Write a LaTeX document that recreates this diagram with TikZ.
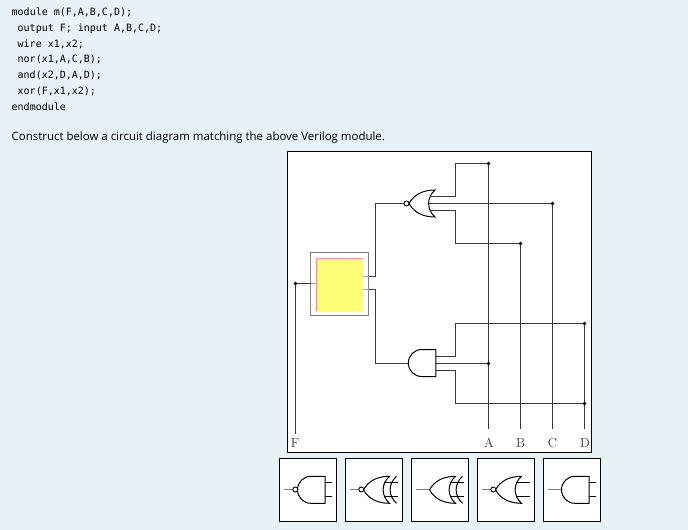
\documentclass[tikz,border=0pt]{standalone}
\usepackage{fontspec}
\setmainfont{Open Sans}
\newfontfamily\codefont{DejaVu Sans Mono}
\newfontfamily\labelfont{Latin Modern Roman}
\definecolor{pagebg}{HTML}{E7F3F6}
\definecolor{wirec}{HTML}{3A3A3A}
\definecolor{slotc}{HTML}{808080}
\definecolor{sloty}{HTML}{FFFF7A}
\definecolor{slotp}{HTML}{FF8A9A}
\tikzset{
  wire/.style={draw=wirec,line width=1.3pt},
  faint/.style={draw=black!35,line width=1.3pt},
  gateline/.style={draw=black,line width=1pt,fill=white},
  pinline/.style={draw=black,line width=1pt},
  outline/.style={line width=1.2pt},
  codeline/.style={anchor=base west,inner sep=0pt,font=\codefont\fontsize{10}{12}\selectfont,text=black},
  sheet/.style={draw=black,line width=1.2pt,fill=white},
  choice/.style={draw=black,line width=1.2pt,fill=white,minimum width=57pt,minimum height=63pt,inner sep=0pt},
  pinlabel/.style={inner sep=0pt,font=\labelfont\fontsize{13}{14}\selectfont,text=black!80},
  jdot/.style={circle,fill=black,inner sep=0pt,minimum size=3.6pt},
  bubble/.style={circle,draw=black,line width=.9pt,fill=white,inner sep=0pt,minimum size=5pt},
  andshape/.pic={
    \path[gateline] (27.5,-13.5) -- (13.4,-13.5) .. controls (6,-13.5) and (0,-7.5) .. (0,0)
      .. controls (0,7.5) and (6,13.5) .. (13.4,13.5) -- (27.5,13.5) -- cycle;
  },
  orshape/.pic={
    \path[gateline] (26,-13.5) .. controls (14,-13.5) and (5,-9) .. (0,0)
      .. controls (5,9) and (14,13.5) .. (26,13.5)
      .. controls (17.5,6) and (17.5,-6) .. (26,-13.5) -- cycle;
  },
  xorback/.pic={
    \draw[pinline] (0,-13.5) .. controls (-8.5,-6) and (-8.5,6) .. (0,13.5);
  }
}
\begin{document}
\begin{tikzpicture}[x=1pt,y=-1pt]
\useasboundingbox[fill=pagebg] (0,0) rectangle (688,530);
% text
\node[codeline] (l1) at (11.5,15) {module m(F,A,B,C,D);};
\node[codeline] (l2) at (17.5,31) {output F; input A,B,C,D;};
\node[codeline] (l3) at (17.5,47) {wire x1,x2;};
\node[codeline] (l4) at (17.5,62.5) {nor(x1,A,C,B);};
\node[codeline] (l5) at (17.5,78.5) {and(x2,D,A,D);};
\node[codeline] (l6) at (17.5,94.5) {xor(F,x1,x2);};
\node[codeline] (l7) at (11.5,110) {endmodule};
\node[anchor=base west,inner sep=0pt,font=\fontsize{11.45}{13}\selectfont,text=black] (q) at (11.5,140)
  {Construct below a circuit diagram matching the above Verilog module.};
% main sheet
\path[sheet] (287.5,151.5) rectangle (591.5,452.5);
% pin coordinates
\coordinate (At) at (488.5,163.5); \coordinate (Ab) at (488.5,429);
\coordinate (Bt) at (520.5,243.5); \coordinate (Bb) at (520.5,429);
\coordinate (Ct) at (552.5,203.5); \coordinate (Cb) at (552.5,429);
\coordinate (Dt) at (584.5,323.5); \coordinate (Db) at (584.5,429);
\coordinate (Am) at (488.5,363.5); \coordinate (Dm) at (584.5,403.5);
\coordinate (Ft) at (295.5,283.5); \coordinate (Fb) at (295.5,434);
\draw[wire] (At) -- (Ab); \draw[wire] (Bt) -- (Bb); \draw[wire] (Ct) -- (Cb);
\draw[wire] (Dt) -- (Db); \draw[wire] (Ft) -- (Fb);
% slot
\node[fill=white,minimum width=58pt,minimum height=63pt,inner sep=0pt] (slot) at (339.5,284) {};
\path[fill=slotp] (316,258) rectangle (363,311);
\path[fill=sloty] (317,259) rectangle (363,311);
\draw[outline,draw=slotc] (slot.north west) rectangle (slot.south east);
\coordinate (sa) at (363,276.5); \coordinate (sb) at (369,276.5);
\coordinate (sc) at (363,289.5); \coordinate (sd) at (369,289.5);
\coordinate (se) at (310.5,283.5); \coordinate (sf) at (316,283.5);
\draw[faint] (sa) -- (sb); \draw[faint] (sc) -- (sd); \draw[faint] (se) -- (sf);
\draw[wire] (Ft) -- (se);
% gates in circuit
\coordinate (norin1) at (431,196.5); \coordinate (norin2) at (429,203.5); \coordinate (norin3) at (431,210.5);
\coordinate (andin1) at (435.7,356.5); \coordinate (andin2) at (435.7,363.5); \coordinate (andin3) at (435.7,370.5);
\coordinate (andout) at (408.3,363.5);
\draw[wire] (norin1) -| (455.5,163.5) -- (At);
\draw[wire] (norin2) -- (Ct);
\draw[wire] (norin3) -| (455.5,243.5) -- (Bt);
\draw[wire] (andin1) -| (455.5,323.5) -- (Dt);
\draw[wire] (andin2) -- (Am);
\draw[wire] (andin3) -| (455.5,403.5) -- (Dm);
\draw[wire] (sb) -| (375.5,203.5) -- (404,203.5);
\draw[wire] (sd) -| (375.5,363.5) -- (andout);
\pic at (409,203.5) {orshape};
\node[bubble] (norb) at (406.5,203.5) {};
\pic at (408.3,363) {andshape};
\foreach \n/\c in {dA/At,dB/Bt,dC/Ct,dD/Dt,dAm/Am,dDm/Dm,dF/Ft}{\node[jdot] (\n) at (\c) {};}
% labels
\node[pinlabel] (lF) at (295,443) {F};
\node[pinlabel] (lA) at (489,443) {A};
\node[pinlabel] (lB) at (520.5,443) {B};
\node[pinlabel] (lC) at (552.5,443) {C};
\node[pinlabel] (lD) at (585,443) {D};
% choices
\node[choice] (c1) at (307.8,489.8) {};
\node[choice] (c2) at (373.8,489.8) {};
\node[choice] (c3) at (439.8,489.8) {};
\node[choice] (c4) at (505.8,489.8) {};
\node[choice] (c5) at (571.8,489.8) {};
% c1 nand
\draw[wire,draw=black!50] (284,489.5) -- (294,489.5);
\draw[pinline] (320,482.5) -- (332,482.5) (320,496.5) -- (332,496.5);
\pic at (297.5,489.8) {andshape};
\node[bubble] (b1) at (295.3,489.5) {};
% c2 xnor
\draw[wire,draw=black!50] (350,489.5) -- (360,489.5);
\draw[pinline] (385,482.5) -- (398,482.5) (385,496.5) -- (398,496.5);
\pic at (363.5,489.8) {orshape};
\pic at (396.5,489.8) {xorback};
\node[bubble] (b2) at (361.3,489.5) {};
% c3 xor
\draw[wire,draw=black!50] (416,489.5) -- (430,489.5);
\draw[pinline] (451,482.5) -- (464,482.5) (451,496.5) -- (464,496.5);
\pic at (429.5,489.8) {orshape};
\pic at (462.5,489.8) {xorback};
% c4 nor
\draw[wire,draw=black!50] (482,489.5) -- (492,489.5);
\draw[pinline] (517,482.5) -- (530,482.5) (517,496.5) -- (530,496.5);
\pic at (495.5,489.8) {orshape};
\node[bubble] (b4) at (493.3,489.5) {};
% c5 and
\draw[wire,draw=black!50] (548,489.5) -- (562,489.5);
\draw[pinline] (585,482.5) -- (596,482.5) (585,496.5) -- (596,496.5);
\pic at (561.5,489.8) {andshape};
\end{tikzpicture}
\end{document}
